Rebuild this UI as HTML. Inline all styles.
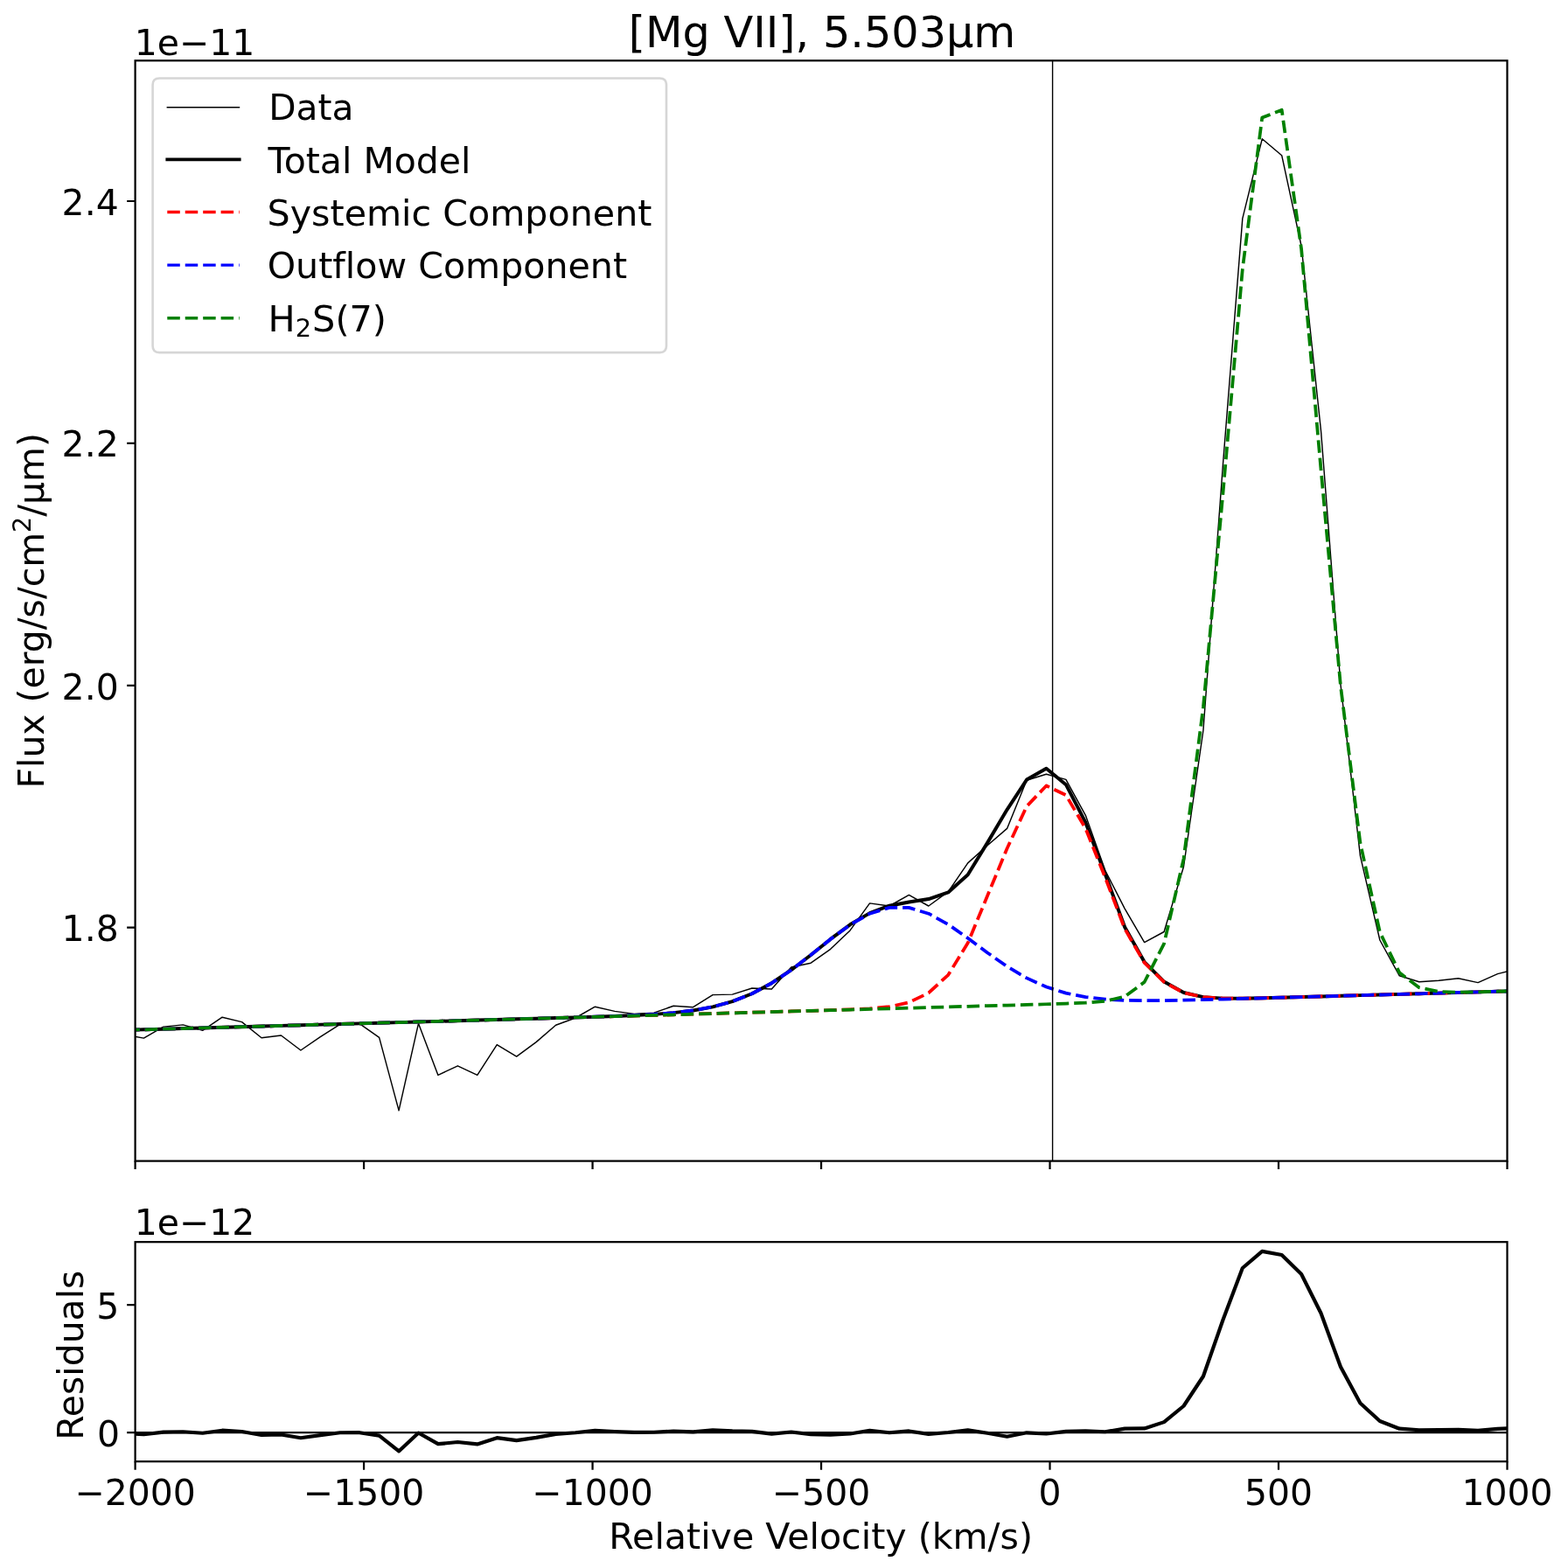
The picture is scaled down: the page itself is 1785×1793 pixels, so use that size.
<!DOCTYPE html>
<html lang="en"><head><meta charset="utf-8"><title>[Mg VII], 5.503µm</title>
<style>html,body{margin:0;padding:0;background:#fff}svg{display:block}text{font-family:"DejaVu Sans","Liberation Sans",sans-serif;fill:#000;font-variant-ligatures:none;font-feature-settings:"liga" 0,"clig" 0}</style></head><body>
<svg width="1785" height="1793" viewBox="0 0 1785 1793">
<rect width="1785" height="1793" fill="#fff"/>
<defs><clipPath id="c1"><rect x="154.60" y="69.30" width="1568.90" height="1258.30"/></clipPath><clipPath id="c2"><rect x="154.60" y="1420.20" width="1568.90" height="251.00"/></clipPath></defs>
<g clip-path="url(#c1)" fill="none" stroke-linejoin="round">
<path d="M141.96 1182.90 L164.40 1187.10 L186.84 1174.10 L209.27 1171.90 L231.71 1178.30 L254.14 1163.20 L276.58 1168.60 L299.02 1186.70 L321.45 1184.00 L343.89 1201.00 L366.32 1185.70 L388.76 1171.40 L411.20 1170.60 L433.63 1186.40 L456.07 1269.90 L478.50 1170.30 L500.94 1229.40 L523.38 1218.80 L545.81 1229.40 L568.25 1194.60 L590.68 1208.10 L613.12 1191.60 L635.56 1172.30 L657.99 1164.00 L680.43 1151.20 L702.86 1156.40 L725.30 1159.40 L747.74 1158.10 L770.17 1150.30 L792.61 1151.70 L815.04 1137.60 L837.48 1137.10 L859.92 1130.00 L882.35 1131.00 L904.79 1106.00 L927.22 1101.20 L949.66 1085.30 L972.10 1063.90 L994.53 1032.90 L1016.97 1036.00 L1039.40 1023.40 L1061.84 1036.00 L1084.28 1019.70 L1106.71 986.90 L1129.15 966.70 L1151.58 947.40 L1174.02 892.30 L1196.46 885.20 L1218.89 891.40 L1241.33 932.30 L1263.76 995.30 L1286.20 1039.10 L1308.64 1077.60 L1331.07 1065.50 L1353.51 991.00 L1375.94 835.00 L1398.38 532.00 L1420.82 249.90 L1443.25 158.80 L1465.69 177.70 L1488.12 281.50 L1510.56 493.00 L1533.00 783.00 L1555.43 978.70 L1577.87 1075.00 L1600.30 1115.80 L1622.74 1122.70 L1645.18 1121.30 L1667.61 1118.70 L1690.05 1123.60 L1712.48 1113.60 L1734.92 1108.00" stroke="#000" stroke-width="1.45" stroke-linecap="square"/>
<path d="M141.96 1177.96 L164.40 1177.32 L186.84 1176.69 L209.27 1176.06 L231.71 1175.43 L254.14 1174.80 L276.58 1174.17 L299.02 1173.53 L321.45 1172.90 L343.89 1172.27 L366.32 1171.64 L388.76 1171.01 L411.20 1170.37 L433.63 1169.74 L456.07 1169.11 L478.50 1168.48 L500.94 1167.85 L523.38 1167.22 L545.81 1166.58 L568.25 1165.95 L590.68 1165.32 L613.12 1164.68 L635.56 1164.05 L657.99 1163.39 L680.43 1162.71 L702.86 1161.96 L725.30 1161.07 L747.74 1159.87 L770.17 1158.14 L792.61 1155.47 L815.04 1151.35 L837.48 1145.14 L859.92 1136.24 L882.35 1124.23 L904.79 1109.21 L927.22 1091.94 L949.66 1073.94 L972.10 1057.29 L994.53 1044.12 L1016.97 1035.71 L1039.40 1031.46 L1061.84 1028.03 L1084.28 1020.41 L1106.71 1000.30 L1129.15 963.63 L1151.58 925.82 L1174.02 891.55 L1196.46 878.73 L1218.89 897.19 L1241.33 940.45 L1263.76 999.51 L1286.20 1060.27 L1308.64 1100.05 L1331.07 1122.53 L1353.51 1135.02 L1375.94 1140.13 L1398.38 1141.64 L1420.82 1141.70 L1443.25 1141.26 L1465.69 1140.67 L1488.12 1140.05 L1510.56 1139.42 L1533.00 1138.78 L1555.43 1138.15 L1577.87 1137.52 L1600.30 1136.89 L1622.74 1136.26 L1645.18 1135.63 L1667.61 1134.99 L1690.05 1134.36 L1712.48 1133.73 L1734.92 1133.10" stroke="#000" stroke-width="3.95" stroke-linecap="square"/>
<path d="M145.30 1177.86 L164.40 1177.32 L186.84 1176.69 L209.27 1176.06 L231.71 1175.43 L254.14 1174.80 L276.58 1174.17 L299.02 1173.53 L321.45 1172.90 L343.89 1172.27 L366.32 1171.64 L388.76 1171.01 L411.20 1170.37 L433.63 1169.74 L456.07 1169.11 L478.50 1168.48 L500.94 1167.85 L523.38 1167.22 L545.81 1166.58 L568.25 1165.95 L590.68 1165.32 L613.12 1164.69 L635.56 1164.06 L657.99 1163.42 L680.43 1162.79 L702.86 1162.16 L725.30 1161.53 L747.74 1160.90 L770.17 1160.27 L792.61 1159.63 L815.04 1159.00 L837.48 1158.37 L859.92 1157.74 L882.35 1157.11 L904.79 1156.47 L927.22 1155.84 L949.66 1155.18 L972.10 1154.42 L994.53 1153.33 L1016.97 1151.18 L1039.40 1146.27 L1061.84 1135.39 L1084.28 1114.81 L1106.71 1078.35 L1129.15 1024.33 L1151.58 970.20 L1174.02 922.07 L1196.46 898.46 L1218.89 909.19 L1241.33 947.32 L1263.76 1003.21 L1286.20 1062.13 L1308.64 1100.94 L1331.07 1122.93 L1353.51 1135.19 L1375.94 1140.20 L1398.38 1141.67 L1420.82 1141.71 L1443.25 1141.26 L1465.69 1140.67 L1488.12 1140.05 L1510.56 1139.42 L1533.00 1138.78 L1555.43 1138.15 L1577.87 1137.52 L1600.30 1136.89 L1622.74 1136.26 L1645.18 1135.63 L1667.61 1134.99 L1690.05 1134.36 L1712.48 1133.73 L1734.92 1133.10" stroke="#f00" stroke-width="3.75" stroke-dasharray="14.5 5.94" stroke-linecap="butt"/>
<path d="M145.30 1177.86 L164.40 1177.32 L186.84 1176.69 L209.27 1176.06 L231.71 1175.43 L254.14 1174.80 L276.58 1174.17 L299.02 1173.53 L321.45 1172.90 L343.89 1172.27 L366.32 1171.64 L388.76 1171.01 L411.20 1170.37 L433.63 1169.74 L456.07 1169.11 L478.50 1168.48 L500.94 1167.85 L523.38 1167.22 L545.81 1166.58 L568.25 1165.95 L590.68 1165.32 L613.12 1164.68 L635.56 1164.05 L657.99 1163.39 L680.43 1162.71 L702.86 1161.96 L725.30 1161.07 L747.74 1159.87 L770.17 1158.14 L792.61 1155.47 L815.04 1151.35 L837.48 1145.14 L859.92 1136.24 L882.35 1124.23 L904.79 1109.21 L927.22 1091.95 L949.66 1073.97 L972.10 1057.45 L994.53 1044.74 L1016.97 1037.85 L1039.40 1037.87 L1061.84 1044.70 L1084.28 1057.02 L1106.71 1072.73 L1129.15 1089.46 L1151.58 1105.14 L1174.02 1118.37 L1196.46 1128.53 L1218.89 1135.63 L1241.33 1140.13 L1263.76 1142.68 L1286.20 1143.87 L1308.64 1144.21 L1331.07 1144.07 L1353.51 1143.67 L1375.94 1143.14 L1398.38 1142.55 L1420.82 1141.93 L1443.25 1141.31 L1465.69 1140.68 L1488.12 1140.05 L1510.56 1139.42 L1533.00 1138.78 L1555.43 1138.15 L1577.87 1137.52 L1600.30 1136.89 L1622.74 1136.26 L1645.18 1135.63 L1667.61 1134.99 L1690.05 1134.36 L1712.48 1133.73 L1734.92 1133.10" stroke="#00f" stroke-width="3.75" stroke-dasharray="14.5 5.94" stroke-linecap="butt"/>
<path d="M145.30 1177.86 L164.40 1177.32 L186.84 1176.69 L209.27 1176.06 L231.71 1175.43 L254.14 1174.80 L276.58 1174.17 L299.02 1173.53 L321.45 1172.90 L343.89 1172.27 L366.32 1171.64 L388.76 1171.01 L411.20 1170.37 L433.63 1169.74 L456.07 1169.11 L478.50 1168.48 L500.94 1167.85 L523.38 1167.22 L545.81 1166.58 L568.25 1165.95 L590.68 1165.32 L613.12 1164.69 L635.56 1164.06 L657.99 1163.42 L680.43 1162.79 L702.86 1162.16 L725.30 1161.53 L747.74 1160.90 L770.17 1160.27 L792.61 1159.63 L815.04 1159.00 L837.48 1158.37 L859.92 1157.74 L882.35 1157.11 L904.79 1156.47 L927.22 1155.84 L949.66 1155.21 L972.10 1154.58 L994.53 1153.95 L1016.97 1153.32 L1039.40 1152.68 L1061.84 1152.05 L1084.28 1151.42 L1106.71 1150.79 L1129.15 1150.16 L1151.58 1149.52 L1174.02 1148.89 L1196.46 1148.25 L1218.89 1147.58 L1241.33 1146.71 L1263.76 1144.90 L1286.20 1139.50 L1308.64 1123.02 L1331.07 1079.10 L1353.51 982.08 L1375.94 808.76 L1398.38 564.71 L1420.82 307.59 L1443.25 134.61 L1465.69 125.64 L1488.12 284.81 L1510.56 537.24 L1533.00 784.47 L1555.43 963.94 L1577.87 1065.94 L1600.30 1112.31 L1622.74 1129.21 L1645.18 1133.93 L1667.61 1134.65 L1690.05 1134.31 L1712.48 1133.72 L1734.92 1133.10" stroke="#008000" stroke-width="3.75" stroke-dasharray="14.5 5.94" stroke-linecap="butt"/>
<path d="M1203.6 69.30 V1327.60" stroke="#000" stroke-width="1.39"/>
</g>
<g clip-path="url(#c2)" fill="none" stroke-linejoin="round">
<path d="M141.96 1639.19 L164.40 1640.21 L186.84 1637.60 L209.27 1637.27 L231.71 1638.76 L254.14 1635.70 L276.58 1636.98 L299.02 1640.93 L321.45 1640.49 L343.89 1644.21 L366.32 1641.12 L388.76 1638.23 L411.20 1638.20 L433.63 1641.66 L456.07 1659.41 L478.50 1638.53 L500.94 1651.14 L523.38 1649.03 L545.81 1651.40 L568.25 1644.19 L590.68 1647.18 L613.12 1643.83 L635.56 1639.89 L657.99 1638.28 L680.43 1635.72 L702.86 1636.98 L725.30 1637.80 L747.74 1637.78 L770.17 1636.50 L792.61 1637.35 L815.04 1635.25 L837.48 1636.45 L859.92 1636.83 L882.35 1639.58 L904.79 1637.47 L927.22 1640.10 L949.66 1640.55 L972.10 1639.54 L994.53 1635.78 L1016.97 1638.21 L1039.40 1636.45 L1061.84 1639.83 L1084.28 1638.00 L1106.71 1635.32 L1129.15 1638.80 L1151.58 1642.70 L1174.02 1638.31 L1196.46 1639.52 L1218.89 1636.93 L1241.33 1636.43 L1263.76 1637.26 L1286.20 1633.68 L1308.64 1633.41 L1331.07 1626.12 L1353.51 1607.76 L1375.94 1573.77 L1398.38 1509.53 L1420.82 1450.00 L1443.25 1430.87 L1465.69 1434.98 L1488.12 1457.01 L1510.56 1501.77 L1533.00 1563.09 L1555.43 1604.51 L1577.87 1624.96 L1600.30 1633.70 L1622.74 1635.29 L1645.18 1635.13 L1667.61 1634.71 L1690.05 1635.88 L1712.48 1633.90 L1734.92 1632.85" stroke="#000" stroke-width="4.17" stroke-linecap="square"/>
<path d="M154.60 1638.15 H1723.50" stroke="#000" stroke-width="2.22"/>
</g>
<rect x="154.60" y="69.30" width="1568.90" height="1258.30" fill="none" stroke="#000" stroke-width="2.22" stroke-linejoin="miter"/>
<rect x="154.60" y="1420.20" width="1568.90" height="251.00" fill="none" stroke="#000" stroke-width="2.22" stroke-linejoin="miter"/>
<path d="M154.60 1327.60v9.45M154.60 1671.20v9.45M416.08 1327.60v9.45M416.08 1671.20v9.45M677.57 1327.60v9.45M677.57 1671.20v9.45M939.05 1327.60v9.45M939.05 1671.20v9.45M1200.53 1327.60v9.45M1200.53 1671.20v9.45M1462.02 1327.60v9.45M1462.02 1671.20v9.45M1723.50 1327.60v9.45M1723.50 1671.20v9.45M154.60 230.00h-9.45M154.60 506.85h-9.45M154.60 783.95h-9.45M154.60 1060.60h-9.45M154.60 1492.20h-9.45M154.60 1638.15h-9.45" stroke="#000" stroke-width="2.22" fill="none"/>
<text x="154.60" y="1720.5" font-size="40.93" text-anchor="middle">−2000</text>
<text x="416.08" y="1720.5" font-size="40.93" text-anchor="middle">−1500</text>
<text x="677.57" y="1720.5" font-size="40.93" text-anchor="middle">−1000</text>
<text x="939.05" y="1720.5" font-size="40.93" text-anchor="middle">−500</text>
<text x="1200.53" y="1720.5" font-size="40.93" text-anchor="middle">0</text>
<text x="1462.02" y="1720.5" font-size="40.93" text-anchor="middle">500</text>
<text x="1723.50" y="1720.5" font-size="40.93" text-anchor="middle">1000</text>
<text x="135.7" y="245.60" font-size="40.93" text-anchor="end">2.4</text>
<text x="135.7" y="522.45" font-size="40.93" text-anchor="end">2.2</text>
<text x="135.7" y="799.55" font-size="40.93" text-anchor="end">2.0</text>
<text x="135.7" y="1076.20" font-size="40.93" text-anchor="end">1.8</text>
<text x="136.20" y="1508.40" font-size="40.93" text-anchor="end">5</text>
<text x="137.00" y="1654.35" font-size="40.93" text-anchor="end">0</text>
<text x="153.8" y="63.0" font-size="40.93">1e−11</text>
<text x="153.8" y="1412.2" font-size="40.93">1e−12</text>
<text x="940.1" y="54.2" font-size="49.3" text-anchor="middle">[Mg VII], 5.503µm</text>
<text x="938.65" y="1770.6" font-size="41.14" text-anchor="middle">Relative Velocity (km/s)</text>
<text transform="translate(50.2 698.3) rotate(-90)" font-size="40.93" text-anchor="middle">Flux (erg/s/cm<tspan font-size="28.65" dy="-15.1">2</tspan><tspan dy="15.1">/µm)</tspan></text>
<text transform="translate(94.9 1549.7) rotate(-90)" font-size="40.93" text-anchor="middle">Residuals</text>
<path d="M182.20 89.45H754.40Q762.00 89.45 762.00 97.05V395.50Q762.00 403.10 754.40 403.10H182.20Q174.60 403.10 174.60 395.50V97.05Q174.60 89.45 182.20 89.45Z" fill="#fff" fill-opacity="0.8" stroke="#ccc" stroke-opacity="0.8" stroke-width="2.6"/>
<path d="M190.6 122.65H274.2" stroke="#000" stroke-width="1.5" fill="none"/>
<path d="M189.4 182.30H275.6" stroke="#000" stroke-width="3.8" fill="none"/>
<path d="M191.3 242.50H273.7" stroke="#f00" stroke-width="3.45" stroke-dasharray="14.5 5.94" stroke-linecap="butt" fill="none"/>
<path d="M191.3 303.10H273.7" stroke="#00f" stroke-width="3.45" stroke-dasharray="14.5 5.94" stroke-linecap="butt" fill="none"/>
<path d="M191.3 363.75H273.7" stroke="#008000" stroke-width="3.45" stroke-dasharray="14.5 5.94" stroke-linecap="butt" fill="none"/>
<text x="307.20" y="136.60" font-size="40.70">Data</text>
<text x="306.60" y="198.00" font-size="41.00">Total Model</text>
<text x="305.50" y="257.70" font-size="41.20">Systemic Component</text>
<text x="305.70" y="318.00" font-size="41.17">Outflow Component</text>
<text x="306.6" y="378.9" font-size="41.4">H<tspan font-size="28.9" dy="6.1">2</tspan><tspan dy="-6.1" dx="1">S(7)</tspan></text>
</svg></body></html>
